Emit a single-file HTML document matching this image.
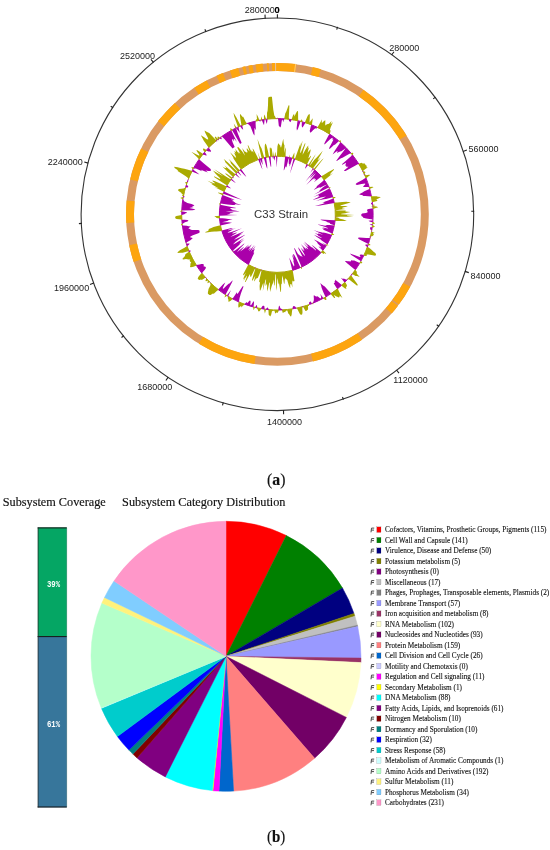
<!DOCTYPE html>
<html lang="en"><head><meta charset="utf-8"><title>C33 Strain genome map and subsystem distribution</title>
<style>html,body{margin:0;padding:0;background:#fff}body{width:550px;height:850px;overflow:hidden}svg{display:block}</style>
</head><body>
<svg width="550" height="850" viewBox="0 0 550 850">
<circle cx="277.4" cy="214.3" r="196.3" fill="none" stroke="#333" stroke-width="1.1"/>
<path d="M277.4 18.3L277.4 14.2M336.7 29.7L337.6 26.9M391.6 55L394 51.7M433.2 98.9L435.5 97.1M463 151.4L466.9 150.1M471.3 211.3L474.2 211.2M464.9 271.4L468.8 272.6M436.7 324.8L439.1 326.5M396.5 370L399 373.2M342.5 397L343.4 399.7M283.5 410.2L283.6 414.3M223.3 402.5L222.5 405.3M168.2 377.1L165.9 380.5M123.8 335.7L121.5 337.5M93.8 282.9L90 284.4M81.8 223.4L78.9 223.6M88.2 163.1L84.3 162M113.1 107.7L110.7 106.2M153.5 62.4L150.9 59.3M206 32L204.9 29.3M265.2 18.7L265 14.6" stroke="#222" stroke-width="1.1" fill="none"/>
<g font-family="'Liberation Sans', Arial, sans-serif" font-size="9" fill="#222">
<text x="244.7" y="12.7">2800000</text>
<text x="389.2" y="50.7">280000</text>
<text x="468.6" y="152.3">560000</text>
<text x="470.4" y="278.8">840000</text>
<text x="393.3" y="382.6">1120000</text>
<text x="267" y="425.2">1400000</text>
<text x="137.3" y="390.4">1680000</text>
<text x="54.1" y="290.8">1960000</text>
<text x="47.7" y="164.5">2240000</text>
<text x="120" y="58.7">2520000</text>
<text x="274.4" y="12.7" font-weight="bold" fill="#000">0</text>
</g>
<circle cx="277.4" cy="214.3" r="147.4" fill="none" stroke="#DA9A63" stroke-width="8.0"/>
<path d="M276.1 62.9A151.4 151.4 0 0 1 296.4 64.1L295.4 72A143.4 143.4 0 0 0 276.1 70.9ZM312.7 67.1A151.4 151.4 0 0 1 320.9 69.3L318.6 76.9A143.4 143.4 0 0 0 310.9 74.9ZM363.4 89.7A151.4 151.4 0 0 1 406.6 135.4L399.8 139.6A143.4 143.4 0 0 0 358.8 96.3ZM410.3 286.8A151.4 151.4 0 0 1 398.9 304.6L392.5 299.8A143.4 143.4 0 0 0 403.3 282.9ZM398 305.8A151.4 151.4 0 0 1 391.8 313.4L385.8 308.2A143.4 143.4 0 0 0 391.6 301ZM362.1 339.8A151.4 151.4 0 0 1 313 361.5L311.1 353.7A143.4 143.4 0 0 0 357.6 333.2ZM254.5 364A151.4 151.4 0 0 1 198.7 343.7L202.9 336.8A143.4 143.4 0 0 0 255.7 356.1ZM133.7 262.1A151.4 151.4 0 0 1 129.2 245.3L137 243.6A143.4 143.4 0 0 0 141.3 259.6ZM126.3 223A151.4 151.4 0 0 1 126.6 200.6L134.6 201.3A143.4 143.4 0 0 0 134.2 222.6ZM130.1 179.5A151.4 151.4 0 0 1 141.1 148.4L148.3 151.9A143.4 143.4 0 0 0 137.8 181.3ZM157.9 121.3A151.4 151.4 0 0 1 174.9 102.9L180.3 108.7A143.4 143.4 0 0 0 164.2 126.2ZM194.3 87.8A151.4 151.4 0 0 1 206.6 80.5L210.3 87.6A143.4 143.4 0 0 0 198.7 94.4ZM216.5 75.7A151.4 151.4 0 0 1 222.9 73.1L225.8 80.5A143.4 143.4 0 0 0 219.8 83ZM229.9 70.6A151.4 151.4 0 0 1 238.2 68.1L240.3 75.8A143.4 143.4 0 0 0 232.4 78.2ZM242.3 67A151.4 151.4 0 0 1 245.4 66.3L247.1 74.1A143.4 143.4 0 0 0 244.2 74.8ZM248.3 65.7A151.4 151.4 0 0 1 252.4 65L253.7 72.9A143.4 143.4 0 0 0 249.8 73.6ZM255.5 64.5A151.4 151.4 0 0 1 262.6 63.6L263.4 71.6A143.4 143.4 0 0 0 256.7 72.4ZM266.8 63.3A151.4 151.4 0 0 1 268.7 63.2L269.1 71.1A143.4 143.4 0 0 0 267.4 71.2ZM271.9 63A151.4 151.4 0 0 1 275 62.9L275.1 70.9A143.4 143.4 0 0 0 272.1 71Z" fill="#FDA50F"/>
<path d="M275.6 62.9L275.6 70.9M295.6 64L294.6 71.9" stroke="#fff" stroke-width="0.5" stroke-opacity="0.8"/>
<path d="M277.4 117.4L278.2 118.6L278.9 118.6L279.7 118.6L280.4 118.6L281.2 118.7L281.9 118.7L282.7 118.7L283.4 118.8L284.2 118.8L285.3 113.3L286.3 111.6L287.4 108.6L288.6 105.3L289.4 105.5L288.8 117.8L289.4 119.4L290.1 119.5L290.9 119.6L291.8 118.8L293.1 114.9L294.1 113.9L294.5 116.5L295.8 113.5L297.1 111.2L298 110.9L298.1 114.2L298.1 118L298.3 120.9L299 121.1L299.7 121.2L300.6 120.8L301.8 119.3L302.3 120.5L302.7 122L303.4 122.2L304.1 122.4L304.8 122.6L307.7 115.7L309.1 113.9L309.8 114.4L309.8 117.1L309.6 120.2L309.6 122.5L311.2 120.3L312.8 118.3L312.3 122L311.9 125L312.6 125.3L313.3 125.6L314 125.9L314.7 126.2L315.4 126.5L316.1 126.8L316.8 127.1L317.7 126.9L322.1 119.3L321.6 122.4L322.3 122.7L324 121.1L325.3 120.3L325.3 122.1L325.2 124L325.4 125.4L326.9 124.3L328 124L329 123.8L331.6 121L330.5 124.5L333 122L330.7 127.3L329.8 130.3L330.7 130.4L330.1 132.7L329.9 134.3L330.6 134.7L331.2 135.1L331.8 135.6L332.4 136L333 136.4L333.7 136.9L334.3 137.3L334.9 137.8L335.5 138.2L336.1 138.7L336.6 139.1L337.2 139.6L337.8 140.1L338.4 140.6L339.2 140.8L340.7 140.2L340.9 141.2L340.7 142.5L341.2 143L341.8 143.5L342.4 144L342.9 144.5L343.5 145.1L344 145.6L344.5 146.1L345.1 146.6L345.6 147.2L346.1 147.7L346.6 148.2L347.2 148.8L347.7 149.3L348.2 149.9L348.7 150.5L349.2 151L349.7 151.6L350.2 152.1L350.7 152.7L351.5 153L352.9 152.8L353.3 153.5L352.6 155.1L353 155.6L353.5 156.2L353.9 156.8L354.4 157.4L354.8 158L355.3 158.7L355.7 159.3L356.1 159.9L356.6 160.5L357 161.1L357.4 161.8L357.8 162.4L358.2 163L358.6 163.7L361.6 162.7L362 163.3L363.1 163.6L364.8 163.5L365.3 164.2L365.4 165L366.4 165.4L366.8 166.1L366.4 167.2L367.9 167.3L363.7 170.3L363 171.5L364.6 171.6L365.4 172.1L365.1 173L364.3 174.2L365.4 174.5L365.8 175.2L369 174.7L370.2 175L367.7 176.9L366.1 178.4L366.4 179.1L366.7 179.8L366.9 180.5L367.2 181.2L367.4 181.9L367.7 182.6L367.9 183.3L368.2 184L368.4 184.7L368.6 185.4L368.9 186.2L369.1 186.9L372.5 186.7L373.5 187.2L369.7 189L369.9 189.8L370.1 190.5L370.3 191.2L370.5 192L370.6 192.7L370.8 193.4L371 194.2L371.1 194.9L371.3 195.6L371.8 196.3L376.7 196.2L377.9 196.8L380.9 197.1L378.9 198.2L376.1 199.5L377.3 200.1L377.1 200.9L372.3 202.3L372.4 203.1L372.5 203.8L372.6 204.5L375.4 205L372.7 206L376.6 206.5L378.2 207.2L375.8 208.1L373 209L373 209.8L373 210.5L373.1 211.3L373.1 212L373.1 212.8L373.1 213.5L373.1 214.3L373.1 215.1L373.1 215.8L373.1 216.6L373.1 217.3L373 218.1L373 218.8L373 219.6L372.9 220.3L372.9 221.1L372.8 221.8L374.2 222.7L375.1 223.5L373.2 224.1L372.5 224.8L373.8 225.7L374.9 226.6L373.9 227.3L372.1 227.8L372 228.5L371.9 229.3L371.8 230L372 230.8L371.5 231.5L374.9 232.9L372.9 233.3L373.8 234.3L373.6 235L373 235.7L372.1 236.2L370.5 236.6L370.9 237.5L370.1 238.1L369.9 238.8L369.7 239.6L369.5 240.3L369.3 241L369.1 241.7L368.9 242.4L368.6 243.2L370.3 244.5L370.3 245.3L367.9 245.3L367.7 246L367.4 246.7L370 248.4L371.5 249.8L373.3 251.4L375.3 253.1L376 254.2L375.9 255.1L375.2 255.7L371.4 255L368.3 254.5L366.7 254.6L366.9 255.5L366.1 256L363.7 255.7L363.3 256.4L363 257.1L362.7 257.7L362.3 258.4L362 259.1L361.6 259.7L361.3 260.4L360.9 261.1L362.4 262.8L361.8 263.3L360.3 263.3L359.4 263.7L359 264.3L358.6 264.9L358.2 265.6L357.8 266.2L357.4 266.8L357 267.5L356.6 268.1L356.1 268.7L355.7 269.3L355.6 270.2L357.2 272.3L356.5 272.7L357.1 274.1L359.7 277.1L357 276.1L355.6 275.9L352.1 274.1L351.6 274.7L351.1 275.3L352.6 277.5L354.4 280.1L356.8 283.2L358 285.3L356.8 285.4L349.1 279.5L347.7 279.3L347.2 279.9L346.6 280.4L346.1 280.9L345.6 281.4L345.1 282L346.6 284.6L347.1 286.2L346.4 286.6L346 287.4L346.4 288.9L344.7 288.2L341.2 285.6L340.7 286.1L340.1 286.6L339.6 287.1L339 287.6L338.4 288L337.8 288.5L338.8 290.9L340.4 294.2L342.4 298.1L339.5 295.6L339.6 297.1L338.8 297.4L337.3 296.8L335.9 296.2L333.9 294.7L335.2 298L334.2 297.9L330.6 293.9L329.9 294.3L329.3 294.7L328.7 295.1L328 295.5L327.4 295.9L326.8 296.3L326.1 296.7L326.2 298.2L326.4 300.1L325.4 300L324 299.1L322.8 298.5L322.2 298.9L321.5 299.2L320.8 299.6L320.2 299.9L319.5 300.2L318.8 300.6L318.1 300.9L317.5 301.2L316.8 301.5L316.1 301.8L315.4 302.1L314.7 302.4L314 302.7L313.3 303L313.1 304.5L311.9 303.6L311.2 303.8L310.5 304.1L309.8 304.3L309.1 304.7L308.8 306L308 306.1L308.1 308.8L307.7 310.1L306.9 310.2L306.4 311.1L305.5 310.9L303.8 307.9L302.7 306.6L302.3 308.2L302.5 312.2L302.2 314.3L301.5 314.7L300.7 314.7L299.6 313.5L298.1 310.5L296.8 308L296.1 308.2L295.3 308.3L294.6 308.4L293.9 308.6L293.1 308.7L292.4 308.9L292 311.6L291.7 314.5L291.1 316.4L290.3 316.3L289.3 314.6L288.3 313.4L287.3 310.5L286.5 310.4L285.8 311L285.1 312.2L284.3 312.1L283.6 312.4L282.8 313.1L281.9 309.9L281.2 309.9L280.4 310L279.7 310L278.9 310L278.2 312.1L277.4 312.9L276.6 312.3L275.8 313.4L275.1 313L274.4 310.5L273.6 310.5L272.8 311.2L272.1 310.7L271.1 314.9L270.2 316.5L269.4 315.4L268.7 314.8L268.4 309.6L267.6 309.5L266.9 309.4L266.2 309.3L264.9 313.4L264.4 311.2L263.9 309L263.2 308.9L262.4 308.8L261.7 308.7L260.8 309.4L259.7 311.1L258.9 311.4L258.2 311L257.7 309.4L257.1 308.5L256.5 307.7L255.8 307.5L255 307.4L253.6 310.3L253.3 308.1L252.9 306.8L252.1 306.6L251.4 306.4L250.7 306.2L250 306L249.3 305.8L248.5 305.5L247.8 305.3L247.1 305.1L246.4 304.8L245.7 304.6L245 304.3L243.9 305.1L242.8 305.8L241.4 307.4L241.2 305.7L240 306.8L238.7 307.7L238.3 306.5L238.3 304.7L238.7 301.8L238 301.5L237.3 301.2L236.7 300.9L236 300.6L235.3 300.2L234.6 299.9L234 299.6L233.3 299.2L232.6 298.9L230.7 300.8L229.4 301.6L228.4 301.8L228.4 300.1L228.2 299L227.8 298.2L228 296.3L227.4 295.9L226.3 296.2L224.5 297.6L225.2 295.2L224.9 294.3L224.2 293.9L223.6 293.5L223 293L222.4 292.6L221.8 292.2L221.1 291.7L220.5 291.3L219.9 290.8L219.3 290.4L218.7 289.9L217.3 290.6L213.8 293.7L212.9 293.6L210.6 295.1L209.5 295.1L208.9 294.6L208.2 294L207.8 293.3L208 291.8L208.4 290.1L208.5 288.9L210.1 286L210.6 284.4L210.2 283.7L210.3 282.5L209.4 282.3L207.4 283.2L207.7 281.8L208 280.5L206.2 281.2L205.4 280.9L206 279.3L206.1 278.1L205.6 277.6L201.8 279.9L201 279.5L199.4 279.9L198.5 279.5L198 278.9L197.7 278.2L198.8 276.3L201.8 273L201.3 272.4L200.9 271.8L200.4 271.2L200 270.6L199.5 269.9L199.1 269.3L198.7 268.7L198.2 268.1L197.8 267.5L197.4 266.8L197 266.2L196.6 265.6L193.4 266.7L190.9 267.3L190 266.9L190.3 265.8L190.5 264.8L190.2 264L191.3 262.5L190.5 262.1L190.1 261.4L189.6 260.8L190.3 259.5L188.9 259.4L187.4 259.3L186 259.1L183.3 259.5L182.3 259.1L183.6 257.5L185 256L185.1 255.1L185.6 254L189.3 251.6L189 250.9L182.7 252.7L180.5 252.7L177.5 252.9L177.8 251.9L179.9 250.3L184.5 247.8L187.1 246L186.9 245.3L186.6 244.6L186.4 243.9L185.9 243.2L185.9 242.4L185.7 241.7L185.5 241L185.3 240.3L185.1 239.6L184.9 238.8L184.7 238.1L184.5 237.4L184.3 236.6L184.2 235.9L184 235.2L183.8 234.4L183.7 233.7L183.5 233L183.4 232.2L183.3 231.5L183.1 230.8L183 230L182.9 229.3L182.8 228.5L182.7 227.8L182.6 227L182.5 226.3L182.4 225.5L180.9 224.9L181.5 224.1L182.1 223.3L182.1 222.6L182 221.8L181.9 221.1L181.9 220.3L181.5 219.6L176.6 219.1L175.3 218.3L175.2 217.5L175.2 216.7L176.4 215.9L181.6 215.1L181.7 214.3L181.7 213.5L181.7 212.8L181.7 212L179.9 211.2L181.5 210.5L181.8 209.8L181.8 209L181.9 208.3L181.9 207.5L182 206.8L182.1 206L182.1 205.3L182.2 204.5L182.3 203.8L182.4 203.1L182.5 202.3L182.6 201.6L182.7 200.8L182.8 200.1L182.9 199.3L180.3 198.1L181.3 197.5L183.3 197.1L183.4 196.4L181.8 195.3L183.1 194.8L181.6 193.7L181.6 192.9L179.3 191.6L178.1 190.5L178.2 189.7L178.9 189L181.3 188.8L183.4 188.6L184.6 188.1L185.4 187.6L185.7 186.9L185.9 186.2L186.2 185.4L186.4 184.7L186.1 183.8L185.1 182.7L185.8 182.1L187.4 181.9L187.6 181.2L187.9 180.5L188.1 179.8L188.4 179.1L188.3 178.2L185.8 176.3L183.1 174.4L177.6 171.1L177.9 170.3L174.6 167.9L174.2 166.7L177.6 167.3L181.5 168.2L184.3 168.7L189 170.1L192.1 170.9L192.5 170.2L192.8 169.5L191.8 168.1L191.4 167L193.9 167.5L194.3 166.9L194.6 166.2L195 165.6L195.4 164.9L195.8 164.3L196.2 163.7L196.6 163L197 162.4L197.4 161.8L197.8 161.1L198.2 160.5L198.7 159.9L198.7 159L197 156.9L191.3 151.7L196.6 154.6L199.3 155.7L199.2 154.6L197.5 152.3L196.3 150.3L197.4 150.2L203.2 153.9L203.7 153.3L204.1 152.7L204.6 152.1L203.1 149.9L203 148.7L203.9 148.5L206.6 149.9L207.1 149.3L207.6 148.8L208.2 148.2L208.7 147.7L206.5 144.5L203.8 140.7L202.5 138.2L200.8 135.3L203.8 137.1L206.9 139.3L208.2 139.5L208 138L206.1 134.6L204.9 132.1L204.6 130.4L207 131.9L209.2 133.1L216.4 140.6L214.7 137.3L215.2 136.6L218.2 139.1L217.4 136.9L218.1 136.5L219.9 137.8L220.5 137.3L221 136.6L221.8 136.4L222.4 136L223 135.6L223.6 135.1L224.2 134.7L224.9 134.3L225.5 133.9L226.1 133.5L226.8 133.1L227.4 132.7L228 132.3L228.7 131.9L229.3 131.5L230 131.2L230.6 130.8L230.2 128.5L230.9 128.2L232.6 129.7L233.3 129.4L234 129L234.6 128.7L235.3 128.4L233.7 123.4L236.7 127.7L237.3 127.4L238 127.1L234.2 116.6L233.5 112.8L236.4 117.5L240.8 125.9L241.5 125.6L240.9 122.1L240.3 118.4L239.9 115.1L240.4 113.9L242.3 116.7L243.2 116.8L245.8 122.1L247.1 123.5L247.8 123.3L248.5 123.1L249.3 122.8L250 122.6L250.7 122.4L251.4 122.2L252.1 122L252.9 121.8L253.6 121.6L254.3 121.4L255.1 121.2L255.8 121.1L256.1 119.1L257 119.7L256.6 113.9L258.1 117.1L259.5 120.3L260.2 120.2L260.9 119.9L261.1 116.3L262.4 119.8L263.2 119.7L263.9 119.6L264 114.6L264.9 115.7L266.2 119.3L266.9 119.2L267 113L267.6 110.8L268 105.3L268.2 97.5L269.1 96.9L270 96.8L270.9 96.8L271.9 96.7L273.3 109.7L274.3 115.5L275.1 116.6L275.9 118.6L276.6 118.6L277.4 117.4L277.4 118.6A95.7 95.7 0 0 0 277.4 310A95.7 95.7 0 0 0 277.4 118.6Z" fill="#AAAA00" fill-rule="evenodd"/>
<path d="M277.4 118.6L278.1 119.3L278.8 125.7L279.5 126.6L280.1 127.4L280.9 126.5L281.8 120.4L282.6 119.6L283.2 122.2L284.1 119.2L284.9 118.9L285.7 119L286.4 119L287.2 119.1L287.9 119.2L288.6 119.3L289.2 121.2L289.9 121.5L290.5 122.2L291.6 119.7L292.4 119.8L293.1 119.9L293.9 120L294.6 120.2L295.3 120.3L296.1 120.4L296.8 120.6L297.5 120.7L296.6 128.2L296.9 130.4L297.9 129L300.5 121.4L301.2 121.6L301.9 121.8L301.7 125.4L302 127.1L302.6 127.6L304.2 124.8L305.5 122.8L306.3 123.1L307 123.3L307.7 123.5L308.4 123.8L309.1 124L309.8 124.3L310.5 124.5L311.2 124.8L309.7 130.7L310 132.1L310.4 132.8L311.6 131.7L313 130.3L314.4 128.9L315.6 128L315.9 129.1L317.5 127.4L318.1 127.7L318.8 128L319.5 128.4L320.2 128.7L320.8 129L321.5 129.4L322.2 129.7L322.8 130.1L323.5 130.4L324.2 130.8L324.8 131.2L325.5 131.5L326.1 131.9L326.8 132.3L327.4 132.7L328 133.1L328.7 133.5L329.3 133.9L325 141.9L324 144.5L325.4 143.7L327.7 141.5L330.1 139.3L332.1 137.8L332.7 138.2L332.5 139.7L333.5 139.6L331.5 143.4L329.6 147.1L328.9 149L330.2 148.4L333.9 144.9L334.9 144.8L339 141L339.6 141.5L340.1 142L339.5 143.8L335.9 149L334 152.1L332.6 154.6L336.4 151.5L337.7 151.1L336.9 152.9L338.9 151.9L340.2 151.5L341.4 151.3L345.6 148.2L343.3 151.4L340.5 155L337.9 158.4L336.3 160.7L336.8 161.1L341 158.2L342.5 157.8L345.5 156.1L349.5 153.7L351.1 153.3L351.6 153.9L352.1 154.5L351.3 156L341.9 164.3L342.4 164.7L346 162.8L345.8 163.8L345.5 164.8L345.3 165.8L346.3 165.8L346.1 166.8L347.4 166.7L348.5 166.8L344 170.5L344.4 171.1L345.6 171L358.2 163.9L359 164.3L359.4 164.9L359.8 165.6L360.2 166.2L360.5 166.9L360.9 167.5L361.3 168.2L361.6 168.9L362 169.5L362.3 170.2L362.7 170.9L362.3 171.9L363.3 172.2L363.7 172.9L364 173.6L363.6 174.6L364.6 174.9L364.9 175.6L365.2 176.3L365.5 177L365.8 177.7L362.3 179.9L356.7 182.9L355.7 184L355.9 184.6L357 184.9L361.5 184L365.1 183.5L365.3 184.2L364.1 185.4L363 186.5L363.9 186.9L366.3 186.9L368.7 187L369.3 187.6L369.5 188.3L368.9 189.3L364.3 191.3L362.5 192.4L359.6 193.9L359.3 194.6L361.3 194.9L363.4 195.1L362.1 196.1L365.3 196.1L368.2 196.2L371.4 196.4L371.5 197.1L371.7 197.8L371.8 198.6L371.9 199.3L372 200.1L372.1 200.8L372.2 201.6L372 202.4L371.1 203.2L370.9 204L372 204.6L372.7 205.3L371.4 206.2L372.8 206.8L372.9 207.5L372.9 208.3L367.5 209.3L367.2 210.1L367.1 210.8L367.6 211.5L367.7 212.2L366 212.9L362.2 213.6L361.3 214.3L361.3 215L361.3 215.6L361.7 216.3L363.1 217L363.1 217.7L366.2 218.5L372.9 219.6L372.9 220.3L368.5 220.8L369.6 221.6L372.7 222.6L372.7 223.3L372.6 224.1L369.5 224.5L372.4 225.5L372.3 226.3L372.2 227L369.9 227.5L370.3 228.3L369.9 228.9L370.8 229.8L371.7 230.8L371.5 231.5L371.4 232.2L371.3 233L371.1 233.7L371 234.4L370.8 235.2L370.6 235.9L369.5 236.4L370.3 237.4L369.4 237.9L366.2 237.9L363.1 237.7L359.4 237.4L358.1 237.8L358.1 238.4L359.5 239.6L363.4 241.5L368.4 243.9L368.2 244.6L366 244.6L365 245.1L366.4 246.3L367.2 247.4L366.9 248.1L366.7 248.8L366.4 249.5L366.1 250.2L365.8 250.9L365.5 251.6L365.2 252.3L364.9 253L364.6 253.7L364.3 254.4L364 255L361.3 254.6L359.9 254.7L359.7 255.4L360.6 256.7L359.8 257.1L354.2 255L349.9 253.4L351.3 254.9L360.7 260.9L360.5 261.7L360.2 262.4L359.8 263L354.2 260.5L352.6 260.4L351.1 260.2L350.9 260.9L350.6 261.6L348.8 261.2L347.7 261.3L346.1 261L344.8 260.9L347.1 263.3L355.3 269.9L354.8 270.6L354.4 271.2L353.9 271.8L353.5 272.4L353 273L352.6 273.5L351.6 273.7L351.3 274.4L350.9 275.1L350.7 275.9L350.2 276.5L349.7 277L349.2 277.6L348.7 278.1L348.2 278.7L347 278.7L347.2 279.8L345.4 279.2L343.7 278.6L343 278.9L340.9 277.8L344.5 282.5L344 283L343.5 283.5L342.9 284.1L342.4 284.6L341.8 285.1L338.1 282.1L334.9 279.6L335.3 281L334.5 281.2L335 282.8L334.1 282.8L333.8 283.6L337.2 289L336.6 289.5L336.1 289.9L335.5 290.4L334.9 290.8L334.3 291.3L333.7 291.7L333 292.2L332.4 292.6L331.8 293L331.2 293.5L328.5 290.8L324.8 286.4L323.5 285.7L321.9 284.4L320.2 283L321.1 285.6L321.6 287.7L322.9 291.2L325.5 297.1L324.8 297.4L324.2 297.8L323.5 298.2L320.3 293.9L321.2 297L320.9 298.1L320.3 298.4L318.8 297.2L317.5 296.2L316.9 296.5L316.1 296.5L315 295.9L313.9 295.1L313.7 296.5L313.9 298.7L313.8 300.2L313.5 301.5L313 302.2L312.6 303.3L311.7 303.1L310.3 301.3L309.7 301.9L309.1 302.5L309.1 304.6L308.4 304.8L307.7 305.1L307 305.3L306.3 305.5L305.5 305.8L304.8 306L304.1 306.2L303.4 306.4L302.4 305.9L301.9 306.8L301.2 307L300.5 307.2L299.7 307.4L299 307.5L298.3 307.7L297.5 307.9L296.8 308L296 307.7L294.9 306.2L294.2 306.2L293.4 305.9L292.8 306.9L292.4 308.8L291.6 308.9L290.9 309L290.1 309.1L289.4 309.2L288.6 309.3L287.9 309.4L287.2 309.5L286.4 309.6L285.7 309.6L284.9 309.7L284.2 309.8L283.4 309.8L282.7 309.9L281.9 308.7L281.1 309L280.3 307.9L279.5 305.5L278.8 306.6L278.2 310L277.4 310L276.6 310L275.9 310L275.1 310L274.4 310L273.6 309.9L272.9 309.9L272.1 309.9L271.4 309.8L270.6 309.8L269.9 309.7L269.1 309.6L268.5 309L267.9 307.5L267.1 307.7L266.2 308.7L265.4 309.2L264.7 309.1L264.3 306.1L263.6 305.8L262.9 305.7L262.1 306.4L260.9 308.6L260.2 308.4L259.5 308.3L258.7 308.2L258 308L257.3 307.9L257 305.4L256.4 304.9L255.1 307.4L254.3 307.2L253.6 307L254 302.4L253.7 301.1L252.4 302.9L250.9 305.4L250.3 304.8L250.6 301.4L250.1 300.5L249.3 300.7L248 302.4L247.1 302.9L246.6 301.9L245.4 303.3L244.3 304.1L243.6 303.8L242.9 303.6L242.2 303.3L241.5 303L240.8 302.7L240.1 302.4L239.4 302.1L239 301.3L239.6 298.1L240.9 293.4L243.5 286.4L242.9 286.1L240.8 288.9L237.6 293.9L237.1 293.5L236.9 292.3L233.2 297.7L232 298.5L231.3 298.2L230.6 297.8L230 297.4L229.3 297.1L228.7 296.7L228.4 295.7L231.1 289.9L226.8 295.5L226.1 295.1L225.5 294.7L229.6 287.1L232.3 281.8L232.6 280.2L229.5 283.6L228.6 283.7L225.9 286.3L223.4 288.7L222.7 288.3L223.9 285.5L225.3 282.6L223.1 284.3L218.2 289.5L217.6 289L217 288.5L216.4 288L215.8 287.6L215.2 287.1L214.7 286.6L214.1 286.1L213.6 285.6L213 285.1L212.4 284.6L211.9 284.1L211.3 283.5L210.8 283L210.3 282.4L209.7 282L209.2 281.4L208.7 280.9L208.2 280.4L207.6 279.8L207.1 279.3L206.6 278.7L206.4 277.9L205.9 277.3L205.1 277L204.6 276.5L204.1 275.9L203.7 275.3L203.2 274.7L202.7 274.1L202.2 273.5L202.6 272.3L204.8 269.7L205.9 268L205.8 267.2L205.3 266.7L204.4 266.4L203.5 266.2L203.9 265.1L203.7 264.4L203 264L201.5 264.1L199.5 264.6L198 264.7L196.2 264.9L195.8 264.3L195.4 263.7L195 263L194.6 262.4L194.3 261.7L193.9 261.1L193.5 260.4L193.2 259.7L192.8 259.1L192.5 258.4L192.1 257.7L191.8 257.1L191.5 256.4L191.1 255.7L190.8 255L190.5 254.4L190.2 253.7L189.9 253L189.6 252.3L190.9 250.9L190.3 250.4L188.7 250.2L188.4 249.5L188.1 248.8L187.9 248.1L187.6 247.4L187.4 246.7L187.4 245.9L189.1 244.5L189.6 243.6L187.3 243.6L186.2 243.2L186.8 242.2L190.4 240.3L191.5 239.2L192.7 238.2L192 237.7L190.4 237.4L190.4 236.6L192.9 235.3L198.4 233.3L199.8 232.3L199.6 231.7L199.5 231.1L199.4 230.5L198.2 230.1L195.3 230L192 229.9L190.4 229.5L189.9 228.9L188.4 228.4L189.3 227.5L190.9 226.6L188.5 226.2L186.7 225.8L183.1 225.5L182.3 224.8L182.2 224.1L183.9 223.1L184.9 222.3L187.5 221.4L188.5 220.6L187.4 220L181.8 219.6L181.8 218.8L181.8 218.1L181.7 217.3L181.7 216.6L181.7 215.8L181.7 215.1L184.4 214.3L185.1 213.6L186.9 212.9L186.7 212.2L181.7 211.3L181.8 210.5L192.6 210.3L195.4 209.8L194 209.1L189.3 208.1L191.6 207.5L193.7 207L191.8 206.2L194.4 205.8L193.8 205.1L191.6 204.1L187.4 202.9L185.7 202L183.7 201L183.9 200.2L183.1 199.4L183 198.6L183.1 197.8L184.3 197.3L184.5 196.6L183.5 195.6L183.7 194.9L183.8 194.2L184 193.4L184.2 192.7L184.3 192L184.5 191.2L184.7 190.5L184.9 189.8L185.1 189L185.3 188.3L185.5 187.6L187.5 187.4L188.2 186.9L188.1 186.1L186.4 184.7L186.6 184L186.9 183.3L187.1 182.6L187.5 181.9L188.3 181.4L187.9 180.5L188.3 179.8L188.4 179.1L188.7 178.4L189 177.7L189.3 177L189.6 176.3L189.9 175.6L190.2 174.9L190.5 174.2L190.8 173.6L191.1 172.9L191.5 172.2L191.8 171.5L199.4 174.6L197.4 172.8L193 169.6L193.2 168.9L193.5 168.2L195.8 168.6L202.1 171.3L200.9 169.8L204.5 171.2L207.9 172.5L205.7 170.4L208.2 171.1L209.1 170.9L210.4 171.1L210.8 170.5L211.1 170L210.3 168.7L203.3 163.1L199.1 159.3L199.5 158.7L200 158L200.4 157.4L200.9 156.8L201.3 156.2L201.8 155.6L202.2 155.1L202.7 154.5L204.7 155.1L206.5 155.7L206.4 154.6L204.9 152.3L205.1 151.6L205.6 151L206.1 150.5L208.5 151.6L209.5 151.5L210.9 151.8L211.1 151.1L209 148L209.2 147.2L209.7 146.6L210.3 146.1L210.8 145.6L211.3 145.1L211.9 144.5L212.4 144L213 143.5L213.6 143L214.1 142.5L214.7 142L215.2 141.5L215.8 141L217.2 141.5L217 140.1L217.6 139.6L219.1 140.4L218.7 138.7L219.3 138.2L221.1 139.3L221.8 139L221.1 136.9L221.9 136.6L224.4 138.9L229.1 144.4L232.6 148.4L233.1 148L233.6 147.7L234.2 147.3L234.7 147L232.7 142.6L232.1 140.4L231.9 138.7L234.2 141.2L233.6 138.8L234.5 139L236.9 142L231.3 130.4L232 130.1L240.1 143.9L240.7 143.6L241.2 143.3L241.6 142.7L237.8 133.5L236 128L238.3 131.1L239.9 133L238.8 128.7L238.7 126.8L239.4 126.5L240.1 126.2L241.9 128.7L243.2 129.8L242.2 125.3L242.9 125L243.6 124.8L244.3 124.5L245 124.3L245.7 124L246.4 123.8L247.2 123.8L248.1 124.1L249.1 124.9L250.3 126.1L253.4 134.1L254.5 135.5L254.5 133.2L254.4 130.4L254.5 127.8L255.8 130.3L255.8 127.5L255.6 123.5L255.8 121.1L256.5 120.9L257.3 120.7L258 120.6L258.7 120.4L259.6 121.2L260.5 121.6L260.9 120L261.7 119.9L263 123.1L264 125.2L264.3 122.5L264.7 119.5L265.4 119.4L266.7 123.9L267.2 121.9L267.6 119.1L268.4 119L269.1 119L269.9 118.9L270.6 118.8L271.4 118.8L272.1 118.7L272.9 118.7L273.6 118.7L274.4 118.6L275.1 118.6L275.9 118.6L276.7 119L277.4 118.6L277.4 118.6A95.7 95.7 0 0 0 277.4 310A95.7 95.7 0 0 0 277.4 118.6Z" fill="#AA00AA" fill-rule="evenodd"/>
<path d="M277 118.6A95.7 95.7 0 0 1 277.8 118.6M284.5 118.9A95.7 95.7 0 0 1 289 119.3M291.3 119.6A95.7 95.7 0 0 1 297.9 120.8M300.1 121.3A95.7 95.7 0 0 1 302.3 121.9M305.2 122.7A95.7 95.7 0 0 1 311.6 124.9M317.1 127.2A95.7 95.7 0 0 1 329.6 134.1M338.7 140.8A95.7 95.7 0 0 1 340.4 142.3M350.9 153A95.7 95.7 0 0 1 352.3 154.8M358.8 164A95.7 95.7 0 0 1 362.8 171.2M363.2 171.9A95.7 95.7 0 0 1 364.2 173.9M364.5 174.6A95.7 95.7 0 0 1 366 178M369.2 187.2A95.7 95.7 0 0 1 369.6 188.7M371.3 196A95.7 95.7 0 0 1 372.3 201.9M372.6 204.9A95.7 95.7 0 0 1 372.7 205.7M372.8 206.4A95.7 95.7 0 0 1 372.9 208.7M372.8 222.2A95.7 95.7 0 0 1 372.6 224.4M372.5 225.2A95.7 95.7 0 0 1 372.2 227.4M371.7 230.4A95.7 95.7 0 0 1 371.6 231.1M371.5 231.9A95.7 95.7 0 0 1 370.5 236.3M370.4 237A95.7 95.7 0 0 1 370.2 237.7M368.5 243.5A95.7 95.7 0 0 1 368.1 244.9M367.3 247.1A95.7 95.7 0 0 1 363.8 255.4M360.7 261.4A95.7 95.7 0 0 1 359.6 263.3M355.5 269.6A95.7 95.7 0 0 1 352.3 273.8M350.9 275.6A95.7 95.7 0 0 1 347.9 279M347.4 279.5A95.7 95.7 0 0 1 346.9 280.1M344.8 282.2A95.7 95.7 0 0 1 341.5 285.3M337.5 288.8A95.7 95.7 0 0 1 330.9 293.7M325.8 296.9A95.7 95.7 0 0 1 323.2 298.3M313 303.1A95.7 95.7 0 0 1 312.3 303.4M309.5 304.5A95.7 95.7 0 0 1 303 306.5M302.3 306.7A95.7 95.7 0 0 1 296.4 308.1M292.7 308.8A95.7 95.7 0 0 1 282.3 309.9M278.5 310A95.7 95.7 0 0 1 268.8 309.6M265.8 309.3A95.7 95.7 0 0 1 264.3 309.1M261.3 308.6A95.7 95.7 0 0 1 256.9 307.8M255.4 307.4A95.7 95.7 0 0 1 253.2 306.9M244.6 304.2A95.7 95.7 0 0 1 239 302M232.3 298.7A95.7 95.7 0 0 1 228.4 296.5M227.1 295.7A95.7 95.7 0 0 1 225.2 294.5M218.4 289.7A95.7 95.7 0 0 1 210.5 282.8M210 282.2A95.7 95.7 0 0 1 206.4 278.4M205.4 277.3A95.7 95.7 0 0 1 202 273.3M196.4 265.3A95.7 95.7 0 0 1 189.4 252M188.8 250.6A95.7 95.7 0 0 1 187.2 246.4M186.3 243.5A95.7 95.7 0 0 1 186 242.8M182.3 225.2A95.7 95.7 0 0 1 182.2 223.7M181.9 219.9A95.7 95.7 0 0 1 181.7 214.7M181.7 211.7A95.7 95.7 0 0 1 181.8 210.2M182.9 199A95.7 95.7 0 0 1 183.2 197.5M183.5 196A95.7 95.7 0 0 1 185.6 187.2M186.3 185.1A95.7 95.7 0 0 1 187.2 182.2M188.3 179.4A95.7 95.7 0 0 1 192 171.2M193 169.2A95.7 95.7 0 0 1 193.7 167.9M198.9 159.6A95.7 95.7 0 0 1 202.9 154.2M204.9 151.9A95.7 95.7 0 0 1 206.4 150.2M208.9 147.4A95.7 95.7 0 0 1 216.1 140.8M216.7 140.3A95.7 95.7 0 0 1 217.9 139.4M218.4 138.9A95.7 95.7 0 0 1 219.6 138M220.8 137.1A95.7 95.7 0 0 1 221.5 136.7M231 130.6A95.7 95.7 0 0 1 232.3 129.9M235.6 128.2A95.7 95.7 0 0 1 236.3 127.9M238.4 126.9A95.7 95.7 0 0 1 240.4 126M241.8 125.5A95.7 95.7 0 0 1 246.8 123.6M255.4 121.2A95.7 95.7 0 0 1 259.1 120.4M260.6 120.1A95.7 95.7 0 0 1 262.1 119.8M264.3 119.5A95.7 95.7 0 0 1 265.8 119.3M267.3 119.1A95.7 95.7 0 0 1 276.3 118.6" fill="none" stroke="#AAAA00" stroke-width="1"/>
<path d="M277.8 118.6A95.7 95.7 0 0 1 284.5 118.9M289 119.3A95.7 95.7 0 0 1 291.3 119.6M297.9 120.8A95.7 95.7 0 0 1 300.1 121.3M302.3 121.9A95.7 95.7 0 0 1 305.2 122.7M311.6 124.9A95.7 95.7 0 0 1 317.1 127.2M329.6 134.1A95.7 95.7 0 0 1 338.7 140.8M340.4 142.3A95.7 95.7 0 0 1 350.9 153M352.3 154.8A95.7 95.7 0 0 1 358.8 164M362.8 171.2A95.7 95.7 0 0 1 363.2 171.9M364.2 173.9A95.7 95.7 0 0 1 364.5 174.6M366 178A95.7 95.7 0 0 1 369.2 187.2M369.6 188.7A95.7 95.7 0 0 1 371.3 196M372.3 201.9A95.7 95.7 0 0 1 372.6 204.9M372.7 205.7A95.7 95.7 0 0 1 372.8 206.4M372.9 208.7A95.7 95.7 0 0 1 372.8 222.2M372.6 224.4A95.7 95.7 0 0 1 372.5 225.2M372.2 227.4A95.7 95.7 0 0 1 371.7 230.4M371.6 231.1A95.7 95.7 0 0 1 371.5 231.9M370.5 236.3A95.7 95.7 0 0 1 370.4 237M370.2 237.7A95.7 95.7 0 0 1 368.5 243.5M368.1 244.9A95.7 95.7 0 0 1 367.3 247.1M363.8 255.4A95.7 95.7 0 0 1 360.7 261.4M359.6 263.3A95.7 95.7 0 0 1 355.5 269.6M352.3 273.8A95.7 95.7 0 0 1 350.9 275.6M347.9 279A95.7 95.7 0 0 1 347.4 279.5M346.9 280.1A95.7 95.7 0 0 1 344.8 282.2M341.5 285.3A95.7 95.7 0 0 1 337.5 288.8M330.9 293.7A95.7 95.7 0 0 1 325.8 296.9M323.2 298.3A95.7 95.7 0 0 1 313 303.1M312.3 303.4A95.7 95.7 0 0 1 309.5 304.5M303 306.5A95.7 95.7 0 0 1 302.3 306.7M296.4 308.1A95.7 95.7 0 0 1 292.7 308.8M282.3 309.9A95.7 95.7 0 0 1 278.5 310M268.8 309.6A95.7 95.7 0 0 1 265.8 309.3M264.3 309.1A95.7 95.7 0 0 1 261.3 308.6M256.9 307.8A95.7 95.7 0 0 1 255.4 307.4M253.2 306.9A95.7 95.7 0 0 1 244.6 304.2M239 302A95.7 95.7 0 0 1 232.3 298.7M228.4 296.5A95.7 95.7 0 0 1 227.1 295.7M225.2 294.5A95.7 95.7 0 0 1 218.4 289.7M210.5 282.8A95.7 95.7 0 0 1 210 282.2M206.4 278.4A95.7 95.7 0 0 1 205.4 277.3M202 273.3A95.7 95.7 0 0 1 196.4 265.3M189.4 252A95.7 95.7 0 0 1 188.8 250.6M187.2 246.4A95.7 95.7 0 0 1 186.3 243.5M186 242.8A95.7 95.7 0 0 1 182.3 225.2M182.2 223.7A95.7 95.7 0 0 1 181.9 219.9M181.7 214.7A95.7 95.7 0 0 1 181.7 211.7M181.8 210.2A95.7 95.7 0 0 1 182.9 199M183.2 197.5A95.7 95.7 0 0 1 183.5 196M185.6 187.2A95.7 95.7 0 0 1 186.3 185.1M187.2 182.2A95.7 95.7 0 0 1 188.3 179.4M192 171.2A95.7 95.7 0 0 1 193 169.2M193.7 167.9A95.7 95.7 0 0 1 198.9 159.6M202.9 154.2A95.7 95.7 0 0 1 204.9 151.9M206.4 150.2A95.7 95.7 0 0 1 208.9 147.4M216.1 140.8A95.7 95.7 0 0 1 216.7 140.3M217.9 139.4A95.7 95.7 0 0 1 218.4 138.9M219.6 138A95.7 95.7 0 0 1 220.8 137.1M221.5 136.7A95.7 95.7 0 0 1 231 130.6M232.3 129.9A95.7 95.7 0 0 1 235.6 128.2M236.3 127.9A95.7 95.7 0 0 1 238.4 126.9M240.4 126A95.7 95.7 0 0 1 241.8 125.5M246.8 123.6A95.7 95.7 0 0 1 255.4 121.2M259.1 120.4A95.7 95.7 0 0 1 260.6 120.1M262.1 119.8A95.7 95.7 0 0 1 264.3 119.5M265.8 119.3A95.7 95.7 0 0 1 267.3 119.1M276.3 118.6A95.7 95.7 0 0 1 277 118.6" fill="none" stroke="#AA00AA" stroke-width="1"/>
<path d="M277.4 146.5L277.9 144.6L278.5 143.2L279.1 143.9L279.6 145.3L280.1 145L280.6 147.2L281.1 147.5L281.8 145L282.6 141.5L283.3 138.8L283.6 142.3L284 144.5L284.5 145.3L284.2 153L285.1 149.2L285.9 147.2L285.6 153.4L285.6 156.9L286 156.9L286.5 157L286.9 157.1L287.4 157.2L287.8 157.2L288.3 157.3L288.7 157.4L289.8 154.5L289.6 157.6L290.1 157.7L290.5 157.8L290.9 157.9L291.4 158L291.8 158.1L293.1 155.2L294.3 152.6L294.4 153.9L294.3 156L294 158.7L294.5 158.9L294.9 159L300.7 142.7L299.9 146.9L302.7 140.5L301.5 145.7L300.3 150.7L300.2 152.4L300.6 152.9L304.9 143.2L305.5 143.4L303.7 149.3L302.9 152.8L302.6 154.8L305.5 149.4L307.4 146.5L308.5 145.4L307.5 149.1L309.1 147L308.2 150.2L307.5 152.9L309 151.1L310.6 149.2L310.6 150.4L310.3 152.1L309.2 155.4L308.4 157.9L308.8 158.3L310.8 155.7L311.1 156.2L306.9 164.4L307.3 164.6L307.7 164.8L308.2 164.9L315.8 153.9L314.1 157.4L310.6 163.8L309.6 166.1L314.6 159.6L316.7 157.5L319 155.1L322.8 150.8L321.1 154.1L317.6 159.9L318.4 159.8L320.8 157.5L312.9 168.5L313.3 168.8L313.7 169L322.1 159.4L323.7 158.3L314.7 169.9L315.1 170.2L315.4 170.5L315.8 170.8L316.1 171.1L316.4 171.4L316.8 171.7L317.1 172L317.4 172.3L317.8 172.6L318.1 173L318.4 173.3L318.7 173.6L319.1 173.9L319.4 174.3L319.7 174.6L320 174.9L320.3 175.3L320.6 175.6L320.9 175.9L321.2 176.3L323.2 175.2L326.1 173.4L328.4 172.1L331.3 170.4L333.9 169L334 169.7L331.8 172.1L330.4 173.8L329.7 175L333.2 173.1L324.3 180.2L324.6 180.6L324.9 180.9L325.1 181.3L325.4 181.7L325.6 182.1L325.9 182.5L326.1 182.8L326.4 183.2L326.6 183.6L326.9 184L327.5 184.2L327.3 184.8L327.6 185.2L327.8 185.6L328 186L328.2 186.4L328.4 186.8L328.7 187.2L328.9 187.6L331.1 186.9L329.5 188.3L329.5 188.8L329.7 189.2L329.9 189.6L330.1 190L330.3 190.4L330.4 190.8L330.6 191.3L330.8 191.7L331 192.1L331.2 192.5L331.3 192.9L331.5 193.4L331.7 193.8L331.8 194.2L332 194.7L332.1 195.1L332.3 195.5L332.4 195.9L332.6 196.4L332.7 196.8L333.5 197L335.5 196.9L335.5 197.4L334.3 198.2L333.3 199L333.5 199.4L333.6 199.9L333.7 200.3L333.8 200.8L333.9 201.2L334 201.6L334.1 202.1L334.2 202.5L337.4 202.4L342.2 201.9L346.4 201.7L347.9 202L350.7 202.1L348.9 203L345.4 204.1L341.1 205.2L340.1 205.9L344.2 205.9L347.8 206L346.1 206.7L342.8 207.6L341.9 208.2L342.7 208.6L345.3 209L335.9 210.2L335.9 210.6L346 210.5L345.3 211.1L345.6 211.6L350.4 212L346.8 212.7L345.3 213.2L341.4 213.8L341.1 214.3L354.4 214.9L346.8 215.4L347.4 215.9L353.4 216.7L340.2 216.8L335.3 217L338.6 217.7L338.5 218.1L340 218.7L343.3 219.5L344.5 220.1L346.8 220.9L343.6 221.1L335 220.7L335 221.1L334.9 221.6L334.9 222L334.8 222.5L334.8 222.9L334.7 223.4L334.6 223.8L334.5 224.3L334.5 224.7L335 225.3L334.4 225.6L334.2 226.1L334.1 226.5L334 227L333.9 227.4L333.8 227.8L333.7 228.3L333.6 228.7L333.5 229.2L333.3 229.6L333.2 230L333.1 230.5L333 230.9L332.8 231.4L332.7 231.8L332.6 232.2L332.4 232.7L332.3 233.1L333.3 233.9L334.3 234.8L333.7 235.1L332 234.9L331.5 235.2L331.3 235.7L331.2 236.1L331 236.5L330.8 236.9L330.6 237.3L330.4 237.8L330.3 238.2L330.1 238.6L329.9 239L329.7 239.4L329.5 239.8L329.3 240.2L329.1 240.6L328.9 241L328.7 241.4L328.4 241.8L328.2 242.2L328 242.6L327.8 243L327.6 243.4L327.3 243.8L327.2 244.3L328.6 245.7L326.7 245.1L326.4 245.4L326.7 246.1L325.9 246.1L325.6 246.5L325.4 246.9L325.1 247.3L324.9 247.7L324.6 248L324.3 248.4L324.1 248.8L323.8 249.1L323.5 249.5L323.2 249.8L322.9 250.2L325.9 253.2L326.2 254L324.2 253L324.1 253.5L323.8 253.9L321.6 252.7L320.9 252.7L320.6 253L320.3 253.3L320 253.7L319.7 254L319.4 254.3L319.1 254.7L318.7 255L318.4 255.3L318.1 255.6L317.8 256L317.4 256.3L317.1 256.6L316.8 256.9L316.4 257.2L316.1 257.5L315.8 257.8L315.4 258.1L315.1 258.4L314.7 258.7L314.4 259L314 259.3L313.7 259.6L313.3 259.8L312.9 260.1L312.6 260.4L312.2 260.7L311.9 261L311.5 261.2L311.1 261.5L310.8 261.8L310.4 262L310 262.3L309.6 262.5L309.2 262.8L308.9 263L308.5 263.3L308.1 263.5L307.7 263.8L307.3 264L306.9 264.2L306.5 264.5L306.1 264.7L305.7 264.9L305.3 265.1L304.9 265.3L304.5 265.6L304.1 265.8L303.7 266L303.3 266.2L302.9 266.4L302.5 266.6L302.1 266.8L301.7 267L302 268.9L301.6 268.9L300.4 267.5L300 267.7L299.6 267.9L299.2 268.1L298.8 268.2L298.3 268.4L297.9 268.6L297.5 268.7L297 268.9L296.6 269L296.2 269.2L295.8 269.3L295.3 269.5L294.9 269.6L294.5 269.7L294 269.9L293.6 270L293.1 270.1L292.7 270.2L293.5 274.9L294.5 281L294 281.2L293.5 281.5L292.7 280.4L292.4 281.5L292.2 283.2L292.5 287.4L291.3 284.1L290.8 284.4L290.1 283.7L290.3 288.3L289.5 286.9L288.6 284.8L287.3 280.2L286.6 278.7L286.2 280.1L285.5 278.2L285 278.5L284.7 280.5L284.5 284L283.9 283.3L282.9 277.8L282.2 275.5L282 278.6L281.8 284.4L281.2 283.6L281 291.5L280.4 291.9L279.7 286.9L279 283.1L278.5 284.6L277.9 280.1L277.4 278.1L276.8 287.7L276.2 290.8L276 275.1L275.5 274L274.6 285.6L274.1 285.2L273.8 279.4L273.1 283L272.5 284L271.8 285.7L270.9 289.1L270.1 292L269.8 288.1L269.9 282.7L269.3 282.6L268 288.8L267 291.6L267.1 286.5L267 283.6L266.2 285.2L265.5 285.7L266.1 279.1L265.4 280.2L262.8 290.9L263.4 284.7L263.2 283L261.8 286.8L260.4 290.4L259.8 290.3L259.7 287.9L259.6 286.1L260.1 281.6L259.3 282.4L259.1 281.3L261.4 271.2L261.2 270L259.8 273.3L257.7 278.2L257.3 277.9L256.6 278.5L256 278.5L254.4 281.4L254.2 280.5L255.3 275.8L253.6 278.7L252.2 281L252 280L253.3 275.2L255.6 268.1L254.4 269.7L250.9 277L250.5 276.5L250 276.3L250.2 274.6L249.8 274.2L245.6 281.9L244.9 282L246.8 276.9L246.8 275.5L243.6 280.7L244.6 277.4L242.7 279.9L245.9 272.6L243.7 275.6L243.6 274.7L242.8 275L248.3 264.5L247.9 264.2L247.5 264L247.1 263.8L246.7 263.5L246.3 263.3L245.9 263L245.6 262.8L245.2 262.5L244.8 262.3L244.4 262L244 261.8L243.7 261.5L243.3 261.2L242.9 261L242.6 260.7L242.2 260.4L241.9 260.1L241.5 259.8L241.1 259.6L240.8 259.3L240.4 259L240.1 258.7L239.7 258.4L239.4 258.1L239 257.8L238.7 257.5L238.4 257.2L238 256.9L237.7 256.6L237.4 256.3L237 256L236.7 255.6L236.4 255.3L236.1 255L235.7 254.7L235.4 254.3L235.1 254L234.8 253.7L234.5 253.3L234.2 253L233.9 252.7L233.6 252.3L233.3 252L232.6 252L232.7 251.3L232.4 250.9L232.1 250.6L231.9 250.2L231.6 249.8L231.3 249.5L231 249.1L230.7 248.8L230.5 248.4L230.2 248L229.9 247.7L229.7 247.3L229.4 246.9L229.2 246.5L228.9 246.1L228.7 245.8L228.4 245.4L228.2 245L227.9 244.6L227.7 244.2L227.5 243.8L227.2 243.4L227 243L226.8 242.6L226.6 242.2L226.4 241.8L226.1 241.4L225.9 241L225.7 240.6L225.5 240.2L225.3 239.8L225.1 239.4L224.9 239L224.7 238.6L224.5 238.2L224.4 237.8L224.2 237.3L224 236.9L223.8 236.5L223.6 236.1L223.5 235.7L223.3 235.2L223.1 234.8L223 234.4L222.8 233.9L222.7 233.5L222.5 233.1L222.4 232.7L222.2 232.2L222.1 231.8L222 231.4L221.8 230.9L219.2 231.2L216.4 231.5L214.6 231.5L211.4 231.8L206.5 232.5L204.7 232.3L208.6 230.8L208.2 230.3L209.2 229.5L208.1 229.2L211.4 228L213.5 227L220.4 225.2L220.3 224.7L220.3 224.3L220.2 223.8L220.1 223.4L220 222.9L220 222.5L219.9 222L219.9 221.6L219.8 221.1L219.8 220.7L219.7 220.2L219.7 219.8L219.6 219.3L219.6 218.9L219.5 218.4L216.7 218.1L216.2 217.7L216.2 217.2L214.6 216.8L214.8 216.3L219.4 215.7L219.4 215.2L219.4 214.8L219.4 214.3L219.4 213.8L219.4 213.4L219.4 212.9L219.4 212.5L219.4 212L219.5 211.6L219.5 211.1L219.5 210.7L219.5 210.2L219.6 209.7L219.6 209.3L219.7 208.8L219.7 208.4L219.8 207.9L219.8 207.5L219.9 207L219.9 206.6L220 206.1L220 205.7L220.1 205.2L220.2 204.8L218.8 204.1L219.1 203.6L220.4 203.4L220.5 203L220.6 202.5L220.7 202.1L220.8 201.6L220.9 201.2L221 200.8L221.1 200.3L221.2 199.9L221.3 199.4L221.5 199L221.6 198.6L221.7 198.1L221.8 197.7L222 197.2L222.1 196.8L222.2 196.4L222.4 195.9L222.5 195.5L221.6 194.7L218.1 192.9L218.2 192.4L221.8 193.3L223.3 193.4L223.5 192.9L223.6 192.5L223.8 192.1L224 191.7L214.2 186.9L218.8 188.4L213.8 185.6L211.1 183.7L213 184L207.4 180.7L213.9 183.2L215.3 183.3L212.9 181.4L212.3 180.5L214.4 180.9L221.4 184.1L226.6 186.4L226.8 186L227 185.6L219.3 180.5L214.1 176.9L214.2 176.3L220.3 179.3L220.3 178.7L219.7 177.7L217.6 175.7L215.4 173.5L214.2 172.1L212.9 170.5L218.7 173.7L223.2 176.2L214.2 169.2L220.1 172.7L227.5 177.4L231 179.5L231.3 179.1L224.9 173.6L225.5 173.4L226.7 173.7L232.4 177.7L232.7 177.3L233 177L227.6 171.8L222.4 166.6L224.6 167.7L225.6 167.9L226.5 168L224.6 165.5L230.6 170.4L235.4 174.3L235.7 173.9L236.1 173.6L225.1 162L225.1 161.2L223.6 158.7L227.9 162.4L237.7 172L238 171.7L230.6 162.9L230.7 162.1L228.5 158.8L232.8 162.9L239.7 170.2L240.1 169.9L240.4 169.6L240.8 169.3L237.1 164L233.5 158.6L233.2 157.3L230.1 152.3L232.9 155.1L235.4 157.4L236.2 157.5L235.5 155.7L234 152.5L235.6 153.8L234.2 150.8L235.9 152.1L236.1 151.4L235.1 148.8L239 153.7L238.4 151.8L240.6 154.2L237.2 147.5L237.7 147.2L238.2 146.9L240.3 149.2L242 151.2L245.2 155.8L243 150.6L242.2 147.9L244.7 151.4L245.5 151.7L246.6 152.7L246.9 152L247.7 152.4L246.6 148.9L247 148.3L248.3 149.9L249.6 151.4L247.7 145.8L248 145L251.7 152.3L251.4 150.2L252.6 151.5L253.6 152.8L252.5 148.5L253.4 149.2L255 152.2L256.8 155.7L258.6 159.4L259 159.3L259.5 159.1L257.6 151.8L260.3 158.9L260.8 158.7L261.2 158.6L261.7 158.5L259.4 148.4L257.4 138.9L259.3 143.8L260.6 146.8L261.5 148.2L264.3 157.8L264.7 157.7L265.2 157.6L265.6 157.5L264.9 151.7L264.7 148L264.8 145.2L265.2 144.1L265.6 143.5L266.5 145.6L267.8 150.6L269.2 156.9L269.7 156.8L270.1 156.8L269.7 148.9L270 147L270.7 148.5L271.1 147.8L271.8 149.1L272.8 156.5L273.3 156.4L273.4 150.9L274.2 156.4L274.7 156.4L275 152.6L275.4 152.2L276 155.8L276.5 156.3L276.9 156.3L277.4 146.5L277.4 156.3A58.0 58.0 0 0 0 277.4 272.3A58.0 58.0 0 0 0 277.4 156.3Z" fill="#AAAA00" fill-rule="evenodd"/>
<path d="M277.4 156.3L277.9 156.3L278.3 156.3L278.8 156.3L279.2 156.3L279.7 156.3L280.1 156.4L280.6 156.4L281 156.4L281.5 156.4L282 156.5L282.4 156.5L282.9 156.6L283.3 156.6L283.8 156.7L284.2 156.7L284.7 156.8L285.1 156.8L283.7 170.3L284 170.3L284.6 169L285.5 165.7L285.6 167.3L286 167.2L286.4 167.3L288.3 159.7L289.2 157.5L288.7 161.7L288.8 163.2L289 164.3L289.5 163.9L289.5 165.8L289.7 166.5L292.3 158.2L292.7 158.4L293.1 158.5L293.6 158.6L291.5 167.2L289.8 173.9L293.5 163.4L295.3 159.1L295.8 159.3L296.2 159.4L296.6 159.6L297 159.7L297.5 159.9L297.9 160L298.3 160.2L298.8 160.4L299.2 160.5L299.6 160.7L300 160.9L300.4 161.1L300.9 161.3L301.3 161.4L301.7 161.6L302.1 161.8L302.5 162L302.9 162.2L303.3 162.4L303.7 162.6L304.1 162.8L304.5 163L304.9 163.3L305.3 163.5L305.7 163.7L306.1 163.9L306.5 164.1L305.7 166.4L304.9 168.6L305.6 168.2L308.1 165.1L308.5 165.3L308.9 165.6L309.2 165.8L309.4 166.4L310 166.3L310.4 166.6L310.8 166.8L311.1 167.1L311.5 167.4L311.9 167.6L312.2 167.9L312.6 168.2L312.4 169.2L310.2 172.7L312.8 170.1L314 169.3L314.4 169.6L312.6 172.5L305.2 181.7L310.9 175.7L315.1 171.5L311.2 176.5L309.8 178.7L314.2 174.4L315.9 173.3L312.9 177.1L309.5 181.2L306.2 185.1L311.9 179.8L313.8 178.5L315.1 177.8L313.6 179.8L315.3 178.7L314.9 179.6L316 179.2L315.8 179.9L313.8 182.2L316.2 180.6L321.5 176.6L321.8 177L322.1 177.3L322.4 177.7L322.7 178L322.9 178.4L323.2 178.8L323.5 179.1L323.8 179.5L324.1 179.8L322.2 181.8L316.4 186.4L317 186.4L316.5 187.3L314.6 189L313.8 190L316.6 188.6L318.8 187.6L320.2 187.2L319.6 188L323.4 186.1L327.1 184.4L322.7 187.5L321.1 188.9L319.4 190.4L319.3 190.8L320.4 190.7L314.1 194.5L318.5 192.6L328.8 187.6L329.1 188L329.3 188.4L321 193L313.1 197.2L318.5 194.9L318.8 195.2L318.7 195.6L318.5 196.1L318.2 196.6L320.2 196.2L314.4 199L312.6 200L316.3 198.9L320.8 197.5L323.4 196.9L325.7 196.5L325.3 197.1L321.7 198.7L315.9 201.1L320 200.1L323.9 199.2L326 198.9L332.8 197.2L333 197.7L333.1 198.1L333.2 198.6L328.1 200.4L324.4 201.8L324.3 202.3L322.3 203.1L324.9 202.9L322.3 203.9L314.9 205.9L317.6 205.7L320 205.5L334.3 203L334.4 203.4L334.5 203.9L334.5 204.3L334.6 204.8L334.7 205.2L334.8 205.7L334.8 206.1L334.9 206.6L334.9 207L335 207.5L335 207.9L335.1 208.4L335.1 208.8L335.2 209.3L335.2 209.7L335.3 210.2L335.3 210.7L335.3 211.1L335.3 211.6L335.4 212L335.4 212.5L335.4 212.9L335.4 213.4L335.4 213.8L335.4 214.3L335.4 214.8L335.4 215.2L335.4 215.7L335.4 216.1L335.4 216.6L335.2 217L335.3 217.5L335.3 217.9L335.3 218.4L335.2 218.9L335.2 219.3L335.1 219.8L335.1 220.2L329.6 220.1L320.1 219.4L320.9 219.8L321.6 220.2L327 221.4L326.1 221.6L327.5 222.2L330.1 223.1L329.7 223.4L330.6 224L334.4 225.2L334.3 225.6L329.6 225.1L326.5 224.9L325.1 225L326.3 225.6L326.6 226.1L318.6 224.5L318 224.7L323.8 226.6L327.9 228.1L327.7 228.5L321.7 227.2L324.9 228.5L323.5 228.5L322 228.4L324 229.4L322.7 229.4L326.3 231L332.1 233.5L332 233.9L331.8 234.4L331.7 234.8L325.8 233L323.3 232.5L323.1 232.8L320.3 232.1L318.6 231.8L313.4 229.9L316.5 231.6L323.2 235L320.2 234L318.5 233.6L318 233.8L317.6 234L314.6 232.9L317.9 234.9L318 235.4L322.2 238L320.7 237.7L318 236.6L314 234.8L316.9 236.9L320.4 239.3L321 240.1L327.1 244.2L326.9 244.6L326.6 245L321.7 242.4L326.1 245.8L323.1 244.3L317.3 241L315.1 239.9L313.8 239.5L316.9 242L317.5 242.9L317.7 243.6L319.7 245.5L321.1 247.1L320.9 247.5L318.5 246.2L319.2 247.3L322.7 250.6L322.4 250.9L322.1 251.3L321.8 251.6L321.5 252L321.2 252.3L313.4 246L311.5 244.8L314.7 248.2L316.1 250.1L315.9 250.5L312 247.3L311.4 247.2L308.7 245.1L307.7 244.6L304.1 241.4L305.9 243.8L308.7 247.1L307.4 246.3L307.6 246.9L303 242.4L307.8 248.2L308.3 249.4L307.1 248.5L305.7 247.5L305.8 248.1L306.7 249.7L304.4 247.5L302.8 246L300.9 244.1L303.5 247.9L304.4 249.7L302.4 247.5L304.6 251.1L303.4 250.1L303.7 251.1L301.2 248.1L301.4 249.1L304.3 253.9L305 255.6L304.6 255.7L302.9 253.7L298 246.8L298.7 248.5L298.2 248.2L299.9 251.6L302.8 257.3L301.8 256.3L301.5 256.5L300.5 255.5L300.5 256.4L299.4 255.1L298.6 254.4L298 254L294.7 248.2L294.4 248.3L294.1 248.4L295.2 251.3L295.9 253.5L301.1 265.7L301.3 267.2L300.9 267.3L300.3 267.2L296.2 258.6L294.2 254.8L293.7 254.6L293 253.8L293.1 254.9L294.3 258.9L292.1 254.2L292.5 256.3L293.8 261.1L293.2 260.4L294.3 265.1L294.2 266L293.9 266.5L292.9 264.7L291.8 262.5L290.9 260.7L290.2 259.6L289.2 257.6L292.3 270.4L291.8 270.5L291.4 270.6L290.9 270.7L290.5 270.8L290.1 270.9L289.6 271L289.2 271.1L288.7 271.2L288.3 271.3L287.8 271.4L287.4 271.4L286.9 271.5L286.5 271.6L286 271.7L285.6 271.7L285.1 271.8L284.7 271.8L284.2 271.9L283.8 271.9L283.3 272L282.9 272L282.4 272.1L282 272.1L281.5 272.2L281 272.2L280.6 272.2L280.1 272.2L279.7 272.3L279.2 272.3L278.8 272.3L278.3 272.3L277.9 272.3L277.4 272.3L276.9 272.3L276.5 272.3L276 272.3L275.6 272.3L275.1 272.3L274.7 272.2L274.2 272.2L273.8 272.2L273.3 272.2L272.8 272.1L272.4 272.1L271.9 272L271.5 272L271 271.9L270.6 271.9L270.1 271.8L269.7 271.8L269.2 271.7L268.8 271.7L268.3 271.6L267.9 271.5L267.4 271.4L267 271.4L266.5 271.3L266.1 271.2L265.6 271.1L265.2 271L264.7 270.9L264.3 270.8L263.9 270.7L263.4 270.6L263 270.5L262.5 270.4L262.1 270.2L261.7 270.1L261.4 269.3L260.8 269.9L260.3 269.7L259.9 269.6L259.5 269.5L259 269.3L258.6 269.2L258.2 269L257.8 268.9L257.3 268.7L256.9 268.6L256.5 268.4L256 268.2L256 267.1L255.2 267.9L254.8 267.7L254.4 267.5L253.9 267.3L253.5 267.2L253.1 267L252.7 266.8L252.3 266.6L251.9 266.4L251.5 266.2L251.1 266L250.7 265.8L250.3 265.6L249.9 265.3L249.5 265.1L249.1 264.9L248.7 264.7L251.3 259.3L252.6 256.3L254.5 252.4L253.4 253.5L253.9 251.9L253.7 251.6L254.6 249.6L254.9 248.6L253.4 250.3L253.3 249.8L255.8 245.6L253 249L250.5 252L252.5 248.6L252.4 248.2L254.6 244.7L249.9 250.3L248.9 251L250.4 248.6L250.9 247.4L248.5 249.8L248.3 249.5L250.8 245.9L251.7 244.3L249.5 246.4L248.3 247.3L249.5 245.5L247.1 247.6L245.3 249L249 244.5L246.8 246.3L244.6 248.2L242.4 249.9L240.1 251.6L243.4 247.7L243.9 246.7L240.9 249.1L236.8 252.4L238.3 250.5L240.8 247.6L243.8 244.4L244.5 243.3L241 245.9L235 250.5L233 251.6L233.3 250.8L233.6 249.9L240.8 243.6L239 244.5L240.4 243L244.6 239.3L241.3 241.4L239.7 242.1L240.9 240.8L244.1 238.1L241.2 239.7L235.5 243.2L233 244.5L233.9 243.4L235.3 242L240.3 238.3L245.3 234.7L244.4 234.9L239.4 237.6L237.1 238.5L234.4 239.7L234.6 239.2L236.5 237.7L239.2 235.7L242.8 233.3L239.6 234.7L239.5 234.4L243.7 231.8L243.5 231.6L240.6 232.7L235.9 234.7L230.4 236.9L232.8 235.3L236.7 233.1L236.7 232.7L236.4 232.4L233.1 233.5L232.3 233.4L232.7 232.8L236.3 231L242.1 228.3L231.3 232.1L229.1 232.5L227.6 232.7L228.3 232L232 230.3L231.2 230.1L235.9 228.2L228.1 230.3L227.8 230L233.2 227.9L231.5 228L221.7 230.5L221.6 230L221.5 229.6L221.3 229.2L221.2 228.7L221.1 228.3L221 227.8L220.9 227.4L220.8 227L220.7 226.5L220.6 226.1L220.5 225.6L230.2 223.3L232.2 222.6L228.3 222.9L230.9 222L227.8 222.2L224.2 222.3L222 222.2L226.1 221.2L229 220.4L227.5 220.2L231 219.4L232.5 218.9L228.2 218.9L226.7 218.7L225.1 218.4L222.5 218.2L219.5 217.9L219.5 217.5L219.5 217L219.4 216.6L219.4 216.1L219.8 215.7L237.9 214.9L230.1 214.7L226.7 214.3L228.9 213.9L230.3 213.6L229.9 213.2L231.9 212.9L233.8 212.6L229.1 212L225.5 211.4L232.9 211.5L239.5 211.6L238.8 211.3L234.8 210.6L231.2 209.9L232.8 209.7L230.6 209.1L230.5 208.7L230.1 208.3L231.3 208.1L234.9 208.3L236.3 208.1L232.8 207.2L221.3 205L220.3 204.3L220.3 203.9L220.5 203.4L227.5 204.4L232.5 205L234.6 205.1L234.9 204.8L234.8 204.4L235.8 204.3L240.5 205.1L240.6 204.8L236.5 203.5L235 202.7L235.4 202.5L231.9 201.1L234.2 201.4L232.8 200.6L230.9 199.6L232.6 199.7L233.7 199.7L234.7 199.7L222.7 195.1L222.8 194.7L223 194.2L223.1 193.8L233.3 197.2L237.5 198.5L242.2 200L235.9 197.1L225.5 192.3L224.2 191.3L224.4 190.8L224.5 190.4L224.7 190L224.9 189.6L225.1 189.2L225.3 188.8L225.5 188.4L225.7 188L225.9 187.6L226.1 187.2L226.4 186.8L230 188.2L231 188.3L229.3 186.9L227.2 185.2L227.5 184.8L227.7 184.4L227.9 184L228.2 183.6L228.4 183.2L228.7 182.8L228.9 182.5L229.2 182.1L229.4 181.7L229.7 181.3L229.9 180.9L230.2 180.6L230.5 180.2L230.7 179.8L235.9 183.2L234.4 181.5L231.6 178.8L231.9 178.4L232.1 178L232.4 177.7L233.9 178.3L233.3 177.2L233.3 176.6L233.6 176.3L233.9 175.9L234.2 175.6L234.5 175.3L234.8 174.9L235.1 174.6L238.6 177.3L239.9 178L236.7 174.2L236.4 173.3L236.7 173L237 172.6L237.4 172.3L241.2 175.7L241 174.9L238.4 171.4L238.7 171.1L239 170.8L239.4 170.5L239.7 170.2L245.2 176L246.3 176.8L244.9 174.4L241.1 169L241.5 168.8L241.9 168.5L242.2 168.2L242.6 167.9L242.9 167.6L243.3 167.4L243.7 167.1L244 166.8L244.4 166.6L244.8 166.3L245.2 166.1L245.6 165.8L245.9 165.6L246.3 165.3L246.7 165.1L247.1 164.8L247.5 164.6L247.9 164.4L248.3 164.1L248.7 163.9L249.1 163.7L249.5 163.5L249.9 163.3L250.3 163L250.7 162.8L251.1 162.6L251.5 162.4L251.9 162.2L252.3 162L252.7 161.8L253.1 161.6L253.5 161.4L253.9 161.3L254.4 161.1L254.8 160.9L255.2 160.7L255.6 160.5L256 160.4L256.5 160.2L256.9 160L257.3 159.9L257.8 159.7L258.2 159.6L261.4 167.6L262.5 169.6L261.1 164.2L259.9 159L261.2 161.8L262.6 164.9L262.6 163.4L262.3 160.9L262.1 158.4L262.5 158.2L263 158.1L263.4 158L263.9 157.9L266.3 166.6L267.2 168.7L267.3 167.4L267 164L266.1 157.4L266.5 157.3L267 157.2L267.4 157.2L267.9 157.1L268.3 157L268.8 156.9L270.5 165.9L271.1 167.2L271.2 165.5L270.6 156.7L271 156.7L271.5 156.6L271.9 156.6L272.4 156.5L273.1 159.3L273.4 158.4L273.8 156.4L274.4 160.6L274.8 160.1L275.1 156.3L275.6 156.3L276 156.3L276.7 167.8L277 162.8L277.4 156.3L277.4 156.3A58.0 58.0 0 0 0 277.4 272.3A58.0 58.0 0 0 0 277.4 156.3Z" fill="#AA00AA" fill-rule="evenodd"/>
<path d="M277.2 156.3A58.0 58.0 0 0 1 285.3 156.8M288.9 157.5A58.0 58.0 0 0 1 289.4 157.6M292 158.2A58.0 58.0 0 0 1 293.8 158.7M295.1 159.1A58.0 58.0 0 0 1 306.7 164.3M307.9 165A58.0 58.0 0 0 1 309.4 165.9M309.8 166.2A58.0 58.0 0 0 1 312.8 168.3M313.8 169.2A58.0 58.0 0 0 1 314.5 169.8M321.4 176.5A58.0 58.0 0 0 1 324.2 180M327 184.2A58.0 58.0 0 0 1 327.2 184.6M329 187.8A58.0 58.0 0 0 1 329.4 188.6M332.8 197A58.0 58.0 0 0 1 333.3 198.8M334.2 202.8A58.0 58.0 0 0 1 335.3 216.8M335.3 217.3A58.0 58.0 0 0 1 335.1 220.4M334.4 224.9A58.0 58.0 0 0 1 334.2 225.8M332.2 233.3A58.0 58.0 0 0 1 331.6 235M327.2 244A58.0 58.0 0 0 1 326.5 245.2M326.2 245.6A58.0 58.0 0 0 1 326 246M322.8 250.4A58.0 58.0 0 0 1 321.1 252.5M301.5 267.1A58.0 58.0 0 0 1 300.6 267.4M292.5 270.3A58.0 58.0 0 0 1 261.4 270.1M261 269.9A58.0 58.0 0 0 1 255.8 268.1M255.4 268A58.0 58.0 0 0 1 248.5 264.6M233.1 251.8A58.0 58.0 0 0 1 232.9 251.4M221.8 230.7A58.0 58.0 0 0 1 220.5 225.4M219.5 218.2A58.0 58.0 0 0 1 219.4 215.9M220.2 204.6A58.0 58.0 0 0 1 220.4 203.7M222.6 195.3A58.0 58.0 0 0 1 223.2 193.6M224.1 191.5A58.0 58.0 0 0 1 226.5 186.6M227.1 185.4A58.0 58.0 0 0 1 230.9 179.7M231.4 178.9A58.0 58.0 0 0 1 232.6 177.5M233.1 176.8A58.0 58.0 0 0 1 235.3 174.4M236.2 173.4A58.0 58.0 0 0 1 237.5 172.2M238.2 171.6A58.0 58.0 0 0 1 239.6 170.3M241 169.2A58.0 58.0 0 0 1 258.4 159.5M259.7 159.1A58.0 58.0 0 0 1 260.1 158.9M261.9 158.4A58.0 58.0 0 0 1 264.1 157.8M265.9 157.5A58.0 58.0 0 0 1 269 156.9M270.4 156.7A58.0 58.0 0 0 1 272.6 156.5M273.5 156.4A58.0 58.0 0 0 1 274 156.4M274.9 156.4A58.0 58.0 0 0 1 276.3 156.3" fill="none" stroke="#AAAA00" stroke-width="1"/>
<path d="M285.3 156.8A58.0 58.0 0 0 1 288.9 157.5M289.4 157.6A58.0 58.0 0 0 1 292 158.2M293.8 158.7A58.0 58.0 0 0 1 295.1 159.1M306.7 164.3A58.0 58.0 0 0 1 307.9 165M309.4 165.9A58.0 58.0 0 0 1 309.8 166.2M312.8 168.3A58.0 58.0 0 0 1 313.8 169.2M314.5 169.8A58.0 58.0 0 0 1 321.4 176.5M324.2 180A58.0 58.0 0 0 1 327 184.2M327.2 184.6A58.0 58.0 0 0 1 329 187.8M329.4 188.6A58.0 58.0 0 0 1 332.8 197M333.3 198.8A58.0 58.0 0 0 1 334.2 202.8M335.3 216.8A58.0 58.0 0 0 1 335.3 217.3M335.1 220.4A58.0 58.0 0 0 1 334.4 224.9M334.2 225.8A58.0 58.0 0 0 1 332.2 233.3M331.6 235A58.0 58.0 0 0 1 327.2 244M326.5 245.2A58.0 58.0 0 0 1 326.2 245.6M326 246A58.0 58.0 0 0 1 322.8 250.4M321.1 252.5A58.0 58.0 0 0 1 301.5 267.1M300.6 267.4A58.0 58.0 0 0 1 292.5 270.3M261.4 270.1A58.0 58.0 0 0 1 261 269.9M255.8 268.1A58.0 58.0 0 0 1 255.4 268M248.5 264.6A58.0 58.0 0 0 1 233.1 251.8M232.9 251.4A58.0 58.0 0 0 1 221.8 230.7M220.5 225.4A58.0 58.0 0 0 1 219.5 218.2M219.4 215.9A58.0 58.0 0 0 1 220.2 204.6M220.4 203.7A58.0 58.0 0 0 1 222.6 195.3M223.2 193.6A58.0 58.0 0 0 1 224.1 191.5M226.5 186.6A58.0 58.0 0 0 1 227.1 185.4M230.9 179.7A58.0 58.0 0 0 1 231.4 178.9M232.6 177.5A58.0 58.0 0 0 1 233.1 176.8M235.3 174.4A58.0 58.0 0 0 1 236.2 173.4M237.5 172.2A58.0 58.0 0 0 1 238.2 171.6M239.6 170.3A58.0 58.0 0 0 1 241 169.2M258.4 159.5A58.0 58.0 0 0 1 259.7 159.1M260.1 158.9A58.0 58.0 0 0 1 261.9 158.4M264.1 157.8A58.0 58.0 0 0 1 265.9 157.5M269 156.9A58.0 58.0 0 0 1 270.4 156.7M272.6 156.5A58.0 58.0 0 0 1 273.5 156.4M274 156.4A58.0 58.0 0 0 1 274.9 156.4M276.3 156.3A58.0 58.0 0 0 1 277.2 156.3" fill="none" stroke="#AA00AA" stroke-width="1"/>
<text x="254.1" y="217.5" font-family="'Liberation Sans', Arial, sans-serif" font-size="11.6" fill="#333" textLength="54" lengthAdjust="spacingAndGlyphs">C33 Strain</text>
<g font-family="'Liberation Serif', 'Times New Roman', serif" fill="#111" stroke="#111" stroke-width="0.15">
<text x="267" y="485.2" font-size="16" textLength="18.4" lengthAdjust="spacingAndGlyphs">(<tspan font-weight="bold">a</tspan>)</text>
<text x="267" y="842.2" font-size="16" textLength="18.3" lengthAdjust="spacingAndGlyphs">(<tspan font-weight="bold">b</tspan>)</text>
<text x="2.7" y="506" font-size="11.5" textLength="103.1" lengthAdjust="spacingAndGlyphs">Subsystem Coverage</text>
<text x="122.1" y="505.8" font-size="11.5" textLength="163.4" lengthAdjust="spacingAndGlyphs">Subsystem Category Distribution</text>
</g>
<rect x="37.9" y="527.5" width="28.9" height="109" fill="#05A664"/>
<rect x="37.9" y="636.5" width="28.9" fill="#37769B" height="170.8"/>
<path d="M37.6 527.9H66.8M37.6 636.6H66.8M37.6 807H66.8" stroke="#111" stroke-width="1"/>
<path d="M38.1 527.5V807.4" stroke="#222" stroke-width="0.7"/>
<path d="M66.7 528V807" stroke="#2b5f55" stroke-width="0.5" stroke-opacity="0.6"/>
<g font-family="'Liberation Mono', 'DejaVu Sans Mono', monospace" font-weight="bold" font-size="8.6" fill="#fff">
<text x="47" y="586.9" textLength="13.1" lengthAdjust="spacingAndGlyphs">39%</text>
<text x="47" y="727.3" textLength="13.1" lengthAdjust="spacingAndGlyphs">61%</text>
</g>
<g stroke-width="0.5">
<path d="M226.0 656.3L226 521.3A135.0 135.0 0 0 1 286.3 535.5Z" fill="#FF0000" stroke="#FF0000"/>
<path d="M226.0 656.3L286.3 535.5A135.0 135.0 0 0 1 342.5 588Z" fill="#008000" stroke="#008000"/>
<path d="M226.0 656.3L342.5 588A135.0 135.0 0 0 1 354 613.5Z" fill="#000080" stroke="#000080"/>
<path d="M226.0 656.3L354 613.5A135.0 135.0 0 0 1 354.9 616.2Z" fill="#808000" stroke="#808000"/>
<path d="M226.0 656.3L354.9 616.2A135.0 135.0 0 0 1 357.4 625.3Z" fill="#C0C0C0" stroke="#C0C0C0"/>
<path d="M226.0 656.3L357.4 625.3A135.0 135.0 0 0 1 357.7 626.4Z" fill="#808080" stroke="#808080"/>
<path d="M226.0 656.3L357.7 626.4A135.0 135.0 0 0 1 361 658.1Z" fill="#9999FF" stroke="#9999FF"/>
<path d="M226.0 656.3L361 658.1A135.0 135.0 0 0 1 360.9 662.6Z" fill="#993366" stroke="#993366"/>
<path d="M226.0 656.3L360.9 662.6A135.0 135.0 0 0 1 346.4 717.4Z" fill="#FFFFCC" stroke="#FFFFCC"/>
<path d="M226.0 656.3L346.4 717.4A135.0 135.0 0 0 1 314.6 758.2Z" fill="#720066" stroke="#720066"/>
<path d="M226.0 656.3L314.6 758.2A135.0 135.0 0 0 1 233.6 791.1Z" fill="#FF8080" stroke="#FF8080"/>
<path d="M226.0 656.3L233.6 791.1A135.0 135.0 0 0 1 219 791.1Z" fill="#0066CC" stroke="#0066CC"/>
<path d="M226.0 656.3L219 791.1A135.0 135.0 0 0 1 212.9 790.7Z" fill="#FF00FF" stroke="#FF00FF"/>
<path d="M226.0 656.3L212.9 790.7A135.0 135.0 0 0 1 212.3 790.6Z" fill="#FFFF00" stroke="#FFFF00"/>
<path d="M226.0 656.3L212.3 790.6A135.0 135.0 0 0 1 165.3 776.9Z" fill="#00FFFF" stroke="#00FFFF"/>
<path d="M226.0 656.3L165.3 776.9A135.0 135.0 0 0 1 137 757.9Z" fill="#800080" stroke="#800080"/>
<path d="M226.0 656.3L137 757.9A135.0 135.0 0 0 1 132.9 754.1Z" fill="#800000" stroke="#800000"/>
<path d="M226.0 656.3L132.9 754.1A135.0 135.0 0 0 1 128.9 750.1Z" fill="#008080" stroke="#008080"/>
<path d="M226.0 656.3L128.9 750.1A135.0 135.0 0 0 1 117.4 736.5Z" fill="#0000FF" stroke="#0000FF"/>
<path d="M226.0 656.3L117.4 736.5A135.0 135.0 0 0 1 101.4 708.3Z" fill="#00CCCC" stroke="#00CCCC"/>
<path d="M226.0 656.3L101.4 708.3A135.0 135.0 0 0 1 101.2 707.8Z" fill="#CCFFFF" stroke="#CCFFFF"/>
<path d="M226.0 656.3L101.2 707.8A135.0 135.0 0 0 1 101.9 603.1Z" fill="#B4FFCA" stroke="#B4FFCA"/>
<path d="M226.0 656.3L101.9 603.1A135.0 135.0 0 0 1 104.5 597.5Z" fill="#FFF27C" stroke="#FFF27C"/>
<path d="M226.0 656.3L104.5 597.5A135.0 135.0 0 0 1 114 581Z" fill="#80CDFF" stroke="#80CDFF"/>
<path d="M226.0 656.3L114 581A135.0 135.0 0 0 1 226 521.3Z" fill="#FF97C9" stroke="#FF97C9"/>
</g>
<g font-family="'Liberation Serif', 'Times New Roman', serif" font-size="8.3" fill="#111" stroke="#111" stroke-width="0.12">
<path d="M374.2 528.1H371.5L371 532.3M371.3 530.1H374" stroke="#4a4a4a" stroke-width="1" fill="none"/>
<rect x="376.8" y="526.9" width="4.2" height="5.5" fill="#FF0000"/>
<text x="385" y="532.4" textLength="161.5" lengthAdjust="spacingAndGlyphs">Cofactors, Vitamins, Prosthetic Groups, Pigments (115)</text>
<path d="M374.2 538.6H371.5L371 542.8M371.3 540.6H374" stroke="#4a4a4a" stroke-width="1" fill="none"/>
<rect x="376.8" y="537.4" width="4.2" height="5.5" fill="#008000"/>
<text x="385" y="542.9" textLength="82.8" lengthAdjust="spacingAndGlyphs">Cell Wall and Capsule (141)</text>
<path d="M374.2 549.1H371.5L371 553.3M371.3 551.1H374" stroke="#4a4a4a" stroke-width="1" fill="none"/>
<rect x="376.8" y="547.9" width="4.2" height="5.5" fill="#000080"/>
<text x="385" y="553.4" textLength="106.3" lengthAdjust="spacingAndGlyphs">Virulence, Disease and Defense (50)</text>
<path d="M374.2 559.6H371.5L371 563.8M371.3 561.6H374" stroke="#4a4a4a" stroke-width="1" fill="none"/>
<rect x="376.8" y="558.4" width="4.2" height="5.5" fill="#808000"/>
<text x="385" y="563.9" textLength="75.2" lengthAdjust="spacingAndGlyphs">Potassium metabolism (5)</text>
<path d="M374.2 570.1H371.5L371 574.3M371.3 572.1H374" stroke="#4a4a4a" stroke-width="1" fill="none"/>
<rect x="376.8" y="568.9" width="4.2" height="5.5" fill="#800080"/>
<text x="385" y="574.4" textLength="53.8" lengthAdjust="spacingAndGlyphs">Photosynthesis (0)</text>
<path d="M374.2 580.6H371.5L371 584.8M371.3 582.6H374" stroke="#4a4a4a" stroke-width="1" fill="none"/>
<rect x="376.8" y="579.4" width="4.2" height="5.5" fill="#C0C0C0"/>
<text x="385" y="584.9" textLength="55.5" lengthAdjust="spacingAndGlyphs">Miscellaneous (17)</text>
<path d="M374.2 591.1H371.5L371 595.3M371.3 593.1H374" stroke="#4a4a4a" stroke-width="1" fill="none"/>
<rect x="376.8" y="589.9" width="4.2" height="5.5" fill="#808080"/>
<text x="385" y="595.4" textLength="164.3" lengthAdjust="spacingAndGlyphs">Phages, Prophages, Transposable elements, Plasmids (2)</text>
<path d="M374.2 601.6H371.5L371 605.8M371.3 603.6H374" stroke="#4a4a4a" stroke-width="1" fill="none"/>
<rect x="376.8" y="600.4" width="4.2" height="5.5" fill="#9999FF"/>
<text x="385" y="605.9" textLength="75.2" lengthAdjust="spacingAndGlyphs">Membrane Transport (57)</text>
<path d="M374.2 612.1H371.5L371 616.3M371.3 614.1H374" stroke="#4a4a4a" stroke-width="1" fill="none"/>
<rect x="376.8" y="610.9" width="4.2" height="5.5" fill="#993366"/>
<text x="385" y="616.4" textLength="103.5" lengthAdjust="spacingAndGlyphs">Iron acquisition and metabolism (8)</text>
<path d="M374.2 622.6H371.5L371 626.8M371.3 624.6H374" stroke="#4a4a4a" stroke-width="1" fill="none"/>
<rect x="376.8" y="621.4" width="4.2" height="5.5" fill="#FFFFCC"/>
<text x="385" y="626.9" textLength="69" lengthAdjust="spacingAndGlyphs">RNA Metabolism (102)</text>
<path d="M374.2 633.1H371.5L371 637.3M371.3 635.1H374" stroke="#4a4a4a" stroke-width="1" fill="none"/>
<rect x="376.8" y="631.9" width="4.2" height="5.5" fill="#720066"/>
<text x="385" y="637.4" textLength="97.6" lengthAdjust="spacingAndGlyphs">Nucleosides and Nucleotides (93)</text>
<path d="M374.2 643.6H371.5L371 647.8M371.3 645.6H374" stroke="#4a4a4a" stroke-width="1" fill="none"/>
<rect x="376.8" y="642.4" width="4.2" height="5.5" fill="#FF8080"/>
<text x="385" y="647.9" textLength="75.2" lengthAdjust="spacingAndGlyphs">Protein Metabolism (159)</text>
<path d="M374.2 654.1H371.5L371 658.3M371.3 656.1H374" stroke="#4a4a4a" stroke-width="1" fill="none"/>
<rect x="376.8" y="652.9" width="4.2" height="5.5" fill="#0066CC"/>
<text x="385" y="658.4" textLength="97.6" lengthAdjust="spacingAndGlyphs">Cell Division and Cell Cycle (26)</text>
<path d="M374.2 664.6H371.5L371 668.8M371.3 666.6H374" stroke="#4a4a4a" stroke-width="1" fill="none"/>
<rect x="376.8" y="663.4" width="4.2" height="5.5" fill="#CCCCFF"/>
<text x="385" y="668.9" textLength="82.8" lengthAdjust="spacingAndGlyphs">Motility and Chemotaxis (0)</text>
<path d="M374.2 675.1H371.5L371 679.3M371.3 677.1H374" stroke="#4a4a4a" stroke-width="1" fill="none"/>
<rect x="376.8" y="673.9" width="4.2" height="5.5" fill="#FF00FF"/>
<text x="385" y="679.4" textLength="99.4" lengthAdjust="spacingAndGlyphs">Regulation and Cell signaling (11)</text>
<path d="M374.2 685.6H371.5L371 689.8M371.3 687.6H374" stroke="#4a4a4a" stroke-width="1" fill="none"/>
<rect x="376.8" y="684.4" width="4.2" height="5.5" fill="#FFFF00"/>
<text x="385" y="689.9" textLength="76.9" lengthAdjust="spacingAndGlyphs">Secondary Metabolism (1)</text>
<path d="M374.2 696.1H371.5L371 700.3M371.3 698.1H374" stroke="#4a4a4a" stroke-width="1" fill="none"/>
<rect x="376.8" y="694.9" width="4.2" height="5.5" fill="#00FFFF"/>
<text x="385" y="700.4" textLength="65.5" lengthAdjust="spacingAndGlyphs">DNA Metabolism (88)</text>
<path d="M374.2 706.6H371.5L371 710.8M371.3 708.6H374" stroke="#4a4a4a" stroke-width="1" fill="none"/>
<rect x="376.8" y="705.4" width="4.2" height="5.5" fill="#800080"/>
<text x="385" y="710.9" textLength="118.4" lengthAdjust="spacingAndGlyphs">Fatty Acids, Lipids, and Isoprenoids (61)</text>
<path d="M374.2 717.1H371.5L371 721.3M371.3 719.1H374" stroke="#4a4a4a" stroke-width="1" fill="none"/>
<rect x="376.8" y="715.9" width="4.2" height="5.5" fill="#800000"/>
<text x="385" y="721.4" textLength="75.9" lengthAdjust="spacingAndGlyphs">Nitrogen Metabolism (10)</text>
<path d="M374.2 727.6H371.5L371 731.8M371.3 729.6H374" stroke="#4a4a4a" stroke-width="1" fill="none"/>
<rect x="376.8" y="726.4" width="4.2" height="5.5" fill="#008080"/>
<text x="385" y="731.9" textLength="92.4" lengthAdjust="spacingAndGlyphs">Dormancy and Sporulation (10)</text>
<path d="M374.2 738.1H371.5L371 742.3M371.3 740.1H374" stroke="#4a4a4a" stroke-width="1" fill="none"/>
<rect x="376.8" y="736.9" width="4.2" height="5.5" fill="#0000FF"/>
<text x="385" y="742.4" textLength="46.8" lengthAdjust="spacingAndGlyphs">Respiration (32)</text>
<path d="M374.2 748.6H371.5L371 752.8M371.3 750.6H374" stroke="#4a4a4a" stroke-width="1" fill="none"/>
<rect x="376.8" y="747.4" width="4.2" height="5.5" fill="#00CCCC"/>
<text x="385" y="752.9" textLength="60.3" lengthAdjust="spacingAndGlyphs">Stress Response (58)</text>
<path d="M374.2 759.1H371.5L371 763.3M371.3 761.1H374" stroke="#4a4a4a" stroke-width="1" fill="none"/>
<rect x="376.8" y="757.9" width="4.2" height="5.5" fill="#CCFFFF"/>
<text x="385" y="763.4" textLength="118.4" lengthAdjust="spacingAndGlyphs">Metabolism of Aromatic Compounds (1)</text>
<path d="M374.2 769.6H371.5L371 773.8M371.3 771.6H374" stroke="#4a4a4a" stroke-width="1" fill="none"/>
<rect x="376.8" y="768.4" width="4.2" height="5.5" fill="#B4FFCA"/>
<text x="385" y="773.9" textLength="103.5" lengthAdjust="spacingAndGlyphs">Amino Acids and Derivatives (192)</text>
<path d="M374.2 780.1H371.5L371 784.3M371.3 782.1H374" stroke="#4a4a4a" stroke-width="1" fill="none"/>
<rect x="376.8" y="778.9" width="4.2" height="5.5" fill="#FFF27C"/>
<text x="385" y="784.4" textLength="68.3" lengthAdjust="spacingAndGlyphs">Sulfur Metabolism (11)</text>
<path d="M374.2 790.6H371.5L371 794.8M371.3 792.6H374" stroke="#4a4a4a" stroke-width="1" fill="none"/>
<rect x="376.8" y="789.4" width="4.2" height="5.5" fill="#80CDFF"/>
<text x="385" y="794.9" textLength="83.8" lengthAdjust="spacingAndGlyphs">Phosphorus Metabolism (34)</text>
<path d="M374.2 801.1H371.5L371 805.3M371.3 803.1H374" stroke="#4a4a4a" stroke-width="1" fill="none"/>
<rect x="376.8" y="799.9" width="4.2" height="5.5" fill="#FF97C9"/>
<text x="385" y="805.4" textLength="58.9" lengthAdjust="spacingAndGlyphs">Carbohydrates (231)</text>
</g>
</svg>
</body></html>
